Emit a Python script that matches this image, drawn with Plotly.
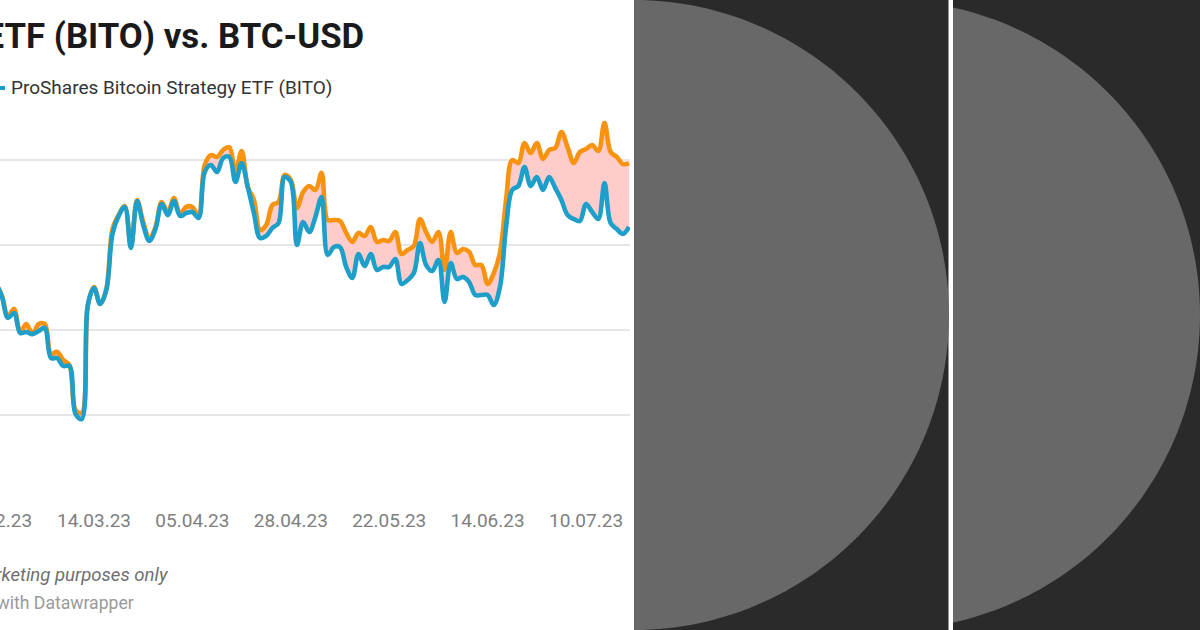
# BITO vs BTC-USD, cropped social card version
import numpy as np
import pandas as pd
import plotly.graph_objects as go

title = "ProShares Bitcoin Strategy ETF (BITO) vs. BTC-USD"
legend_text = "ProShares Bitcoin Strategy ETF (BITO)"
note = "For marketing purposes only"
credit = "Created with Datawrapper"

holidays = ["2023-02-20", "2023-04-07", "2023-05-29", "2023-06-19", "2023-07-04"]
dates = pd.bdate_range("2023-02-17", "2023-07-19", freq="C", holidays=holidays).strftime("%d.%m.%y").tolist()
tick_labels = ["14.03.23", "05.04.23", "28.04.23", "22.05.23", "14.06.23", "10.07.23"]
grid_values = [0, 50, 100, 150, 200]

bito = [
    127.6, 120.0, 107.1, 110.0, 98.2, 98.8, 97.6, 99.4, 101.2, 83.5, 83.5, 78.8, 78.8, 50.6, 47.6,
    114.7, 124.7, 115.3, 123.5, 156.5, 167.1, 172.4, 148.2, 175.9, 161.8, 152.4, 159.4, 174.1, 167.6,
    175.9, 167.1, 168.8, 169.4, 165.9, 192.9, 197.1, 192.9, 201.2, 201.8, 187.1, 198.2, 184.1, 168.8,
    154.1, 155.3, 160.0, 162.9, 190.0, 187.1, 150.0, 163.5, 157.6, 166.5, 178.2, 144.1, 148.8, 148.8,
    137.1, 130.6, 144.7, 137.6, 144.7, 135.3, 137.1, 137.1, 141.8, 127.1, 129.4, 133.5, 151.2, 138.2,
    134.7, 141.2, 116.5, 139.4, 130.0, 131.2, 128.2, 120.6, 120.6, 120.6, 114.7, 125.3, 160.6, 182.4,
    184.7, 195.9, 184.7, 190.0, 182.4, 190.0, 183.5, 176.5, 167.6, 165.3, 164.1, 174.1, 169.4, 165.3,
    186.5, 162.9, 159.4, 156.5, 160.6,
]
btc = [
    127.6, 120.6, 108.2, 112.4, 98.8, 103.5, 97.6, 103.5, 103.5, 85.9, 87.1, 82.4, 79.4, 52.9, 51.2,
    114.7, 125.3, 115.3, 124.1, 159.4, 167.6, 172.9, 148.8, 176.5, 163.5, 154.1, 160.6, 175.3, 169.4,
    177.6, 168.2, 172.4, 172.4, 167.1, 197.1, 202.9, 201.8, 205.9, 207.6, 192.9, 205.3, 184.1, 176.5,
    158.8, 161.8, 173.5, 175.3, 191.2, 188.2, 171.8, 181.2, 184.7, 182.4, 192.4, 164.7, 164.7, 164.1,
    157.1, 151.8, 157.1, 155.3, 160.6, 151.8, 152.9, 152.4, 157.6, 144.7, 147.1, 149.4, 165.3, 157.6,
    151.8, 157.6, 135.3, 157.6, 145.3, 147.6, 145.9, 138.2, 138.2, 127.1, 133.5, 145.3, 176.5, 200.0,
    198.2, 210.0, 204.1, 210.0, 200.6, 205.9, 207.1, 216.5, 207.6, 198.2, 204.7, 206.5, 208.8, 205.3,
    221.8, 204.7, 201.8, 197.6, 198.2,
]

BLUE = "#1d9fc9"
ORANGE = "#f7930f"
PLOT_L, PLOT_R, PLOT_T, PLOT_B = 0, 630, 100, 500


# page pixels to paper coords, the page is cropped so a lot of things sit by hand
def px(x):
    return (x - PLOT_L) / (PLOT_R - PLOT_L)


def py(y):
    return (PLOT_B - y) / (PLOT_B - PLOT_T)


# right hand part of a circle, cut off at x=left
def half_disc(cx, cy, r, left):
    a = np.arccos((left - cx) / r)
    t = np.linspace(a, -a, 120)
    xs = cx + r * np.cos(t)
    ys = cy - r * np.sin(t)
    pts = [f"{px(x):.5f},{py(y):.5f}" for x, y in zip(xs, ys)]
    return "M" + " L".join(pts) + " Z"


fig = go.Figure()

fig.add_trace(go.Scatter(x=dates, y=bito, mode="lines", showlegend=False, hoverinfo="skip",
                         line=dict(width=0, color=BLUE, shape="spline", smoothing=1.0)))
fig.add_trace(go.Scatter(x=dates, y=btc, mode="lines", name="BTC-USD", fill="tonexty", fillcolor="#ffcccc",
                         line=dict(width=4.6, color=ORANGE, shape="spline", smoothing=1.0)))
fig.add_trace(go.Scatter(x=dates, y=bito, mode="lines", name="BITO",
                         line=dict(width=4.6, color=BLUE, shape="spline", smoothing=1.0)))

fig.update_xaxes(
    type="category",
    categoryorder="array",
    categoryarray=dates,
    range=[0.715, 103.15],
    tickmode="array",
    tickvals=tick_labels,
    ticktext=tick_labels,
    ticks="",
    ticklabelstandoff=7,
    showgrid=False,
    zeroline=False,
    showline=False,
    tickfont=dict(family="Roboto", size=19, color="#808080"),
)
fig.update_yaxes(
    range=[0, 400 / 1.7],
    tickvals=grid_values,
    showticklabels=False,
    gridcolor="#e6e6e6",
    gridwidth=1.5,
    zeroline=False,
    showline=False,
)

shapes = [
    dict(type="rect", xref="paper", yref="paper", x0=px(634), x1=px(948.5), y0=py(0), y1=py(630),
         fillcolor="#2a2a2a", line_width=0),
    dict(type="rect", xref="paper", yref="paper", x0=px(953), x1=px(1200), y0=py(0), y1=py(630),
         fillcolor="#2a2a2a", line_width=0),
    dict(type="path", xref="paper", yref="paper", path=half_disc(634, 315, 315, 634),
         fillcolor="#686868", line_width=0),
    dict(type="path", xref="paper", yref="paper", path=half_disc(885, 315, 315, 953),
         fillcolor="#686868", line_width=0),
    dict(type="line", xref="paper", yref="paper", x0=px(-2), x1=px(5), y0=py(88), y1=py(88),
         line=dict(color=BLUE, width=4)),
]

annotations = [
    dict(text=f"<b>{title}</b>", x=px(366), y=py(36), font=dict(size=34.8, color="#1a1a1a")),
    dict(text=legend_text, x=px(333.5), y=py(88), font=dict(size=19, color="#333333")),
    dict(text="17.02.23", x=px(34), y=py(520.5), font=dict(size=19, color="#808080")),
    dict(text=f"<i>{note}</i>", x=px(171), y=py(575), font=dict(size=18.6, color="#6f6f6f")),
    dict(text=credit, x=px(136), y=py(603), font=dict(size=17.6, color="#9a9a9a")),
]
for a in annotations:
    a.update(xref="paper", yref="paper", xanchor="right", yanchor="middle", showarrow=False)
    a["font"]["family"] = "Roboto"

fig.update_layout(
    width=1200,
    height=630,
    margin=dict(l=PLOT_L, r=1200 - PLOT_R, t=PLOT_T, b=630 - PLOT_B, pad=0),
    paper_bgcolor="white",
    plot_bgcolor="white",
    showlegend=False,
    shapes=shapes,
    annotations=annotations,
)

# the browser's default body margin would push the whole card 8px
fig.write_html(
    "out.html",
    config={"displayModeBar": False},
    post_script="document.body.style.margin='0';document.body.style.overflow='hidden';",
)
